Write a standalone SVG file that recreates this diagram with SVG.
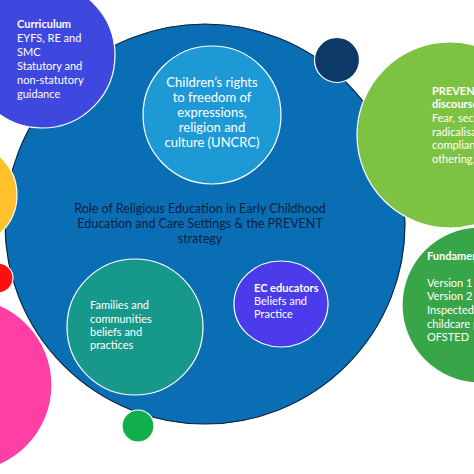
<svg xmlns="http://www.w3.org/2000/svg" width="474" height="474" viewBox="0 0 474 474">
<style>
.t{font-family:Lato,"Open Sans","Liberation Sans",sans-serif;font-size:11px;fill:#ffffff}
.b{font-weight:bold}
.c{text-anchor:middle}
.role{font-family:Lato,"Open Sans","Liberation Sans",sans-serif;font-size:12.5px;fill:#0b2240;text-anchor:middle}
.ws{stroke:#ffffff;stroke-width:1.2}
</style>
<rect width="474" height="474" fill="#ffffff"/>
<g id="main">
<circle cx="205" cy="224" r="200" fill="#0a6eb4" stroke="#0b2240" stroke-width="1.2"/>
<text class="role"><tspan x="200" y="213">Role of Religious Education in Early Childhood</tspan><tspan x="200" y="228">Education and Care Settings &amp; the PREVENT</tspan><tspan x="200" y="243">strategy</tspan></text>
</g>
<g id="rights">
<circle cx="212" cy="115" r="69" fill="#1d9ad6" class="ws"/>
<text class="t c" style="font-size:13px"><tspan x="212" y="87">Children’s rights</tspan><tspan x="212" y="102">to freedom of</tspan><tspan x="212" y="117">expressions,</tspan><tspan x="212" y="132">religion and</tspan><tspan x="212" y="147">culture (UNCRC)</tspan></text>
</g>
<g id="navy">
<circle cx="337" cy="60" r="22.5" fill="#0e3a68" class="ws"/>
</g>
<g id="curriculum">
<circle cx="42" cy="55" r="73" fill="#3f48de" class="ws"/>
<text class="t"><tspan x="17" y="28" class="b">Curriculum</tspan><tspan x="17" y="42">EYFS, RE and</tspan><tspan x="17" y="56">SMC</tspan><tspan x="17" y="70">Statutory and</tspan><tspan x="17" y="84">non-statutory</tspan><tspan x="17" y="98">guidance</tspan></text>
</g>
<g id="yellow">
<circle cx="-35" cy="195" r="52" fill="#ffc12b" class="ws"/>
</g>
<g id="red">
<circle cx="-2" cy="278" r="15" fill="#ff1010" class="ws"/>
</g>
<g id="pink">
<circle cx="-35" cy="385" r="87" fill="#ff3fa4" class="ws"/>
</g>
<g id="smallgreen">
<circle cx="138" cy="426" r="16" fill="#12b04d" class="ws"/>
</g>
<g id="prevent">
<circle cx="450" cy="135" r="93" fill="#7dc242" class="ws"/>
<text class="t"><tspan x="432" y="95" class="b">PREVENT</tspan><tspan x="432" y="108" class="b">discourse</tspan><tspan x="432" y="122">Fear, sec</tspan><tspan x="432" y="136">radicalisa</tspan><tspan x="432" y="149">complian</tspan><tspan x="432" y="163">othering,</tspan></text>
</g>
<g id="fundamental">
<circle cx="480" cy="305" r="78" fill="#38a549" class="ws"/>
<text class="t"><tspan x="427" y="260" class="b">Fundamen</tspan><tspan x="427" y="287">Version 1</tspan><tspan x="427" y="300">Version 2</tspan><tspan x="427" y="314">Inspected</tspan><tspan x="427" y="328">childcare p</tspan><tspan x="427" y="341">OFSTED</tspan></text>
</g>
<g id="families">
<circle cx="135" cy="327" r="68" fill="#16998a" class="ws"/>
<text class="t"><tspan x="90" y="309">Families and</tspan><tspan x="90" y="323">communities</tspan><tspan x="90" y="336">beliefs and</tspan><tspan x="90" y="349">practices</tspan></text>
</g>
<g id="educators">
<ellipse cx="281" cy="304" rx="47" ry="43" fill="#4b3bea" class="ws"/>
<text class="t"><tspan x="254" y="292" class="b">EC educators</tspan><tspan x="254" y="305">Beliefs and</tspan><tspan x="254" y="318">Practice</tspan></text>
</g>
<g id="connectors"></g>
</svg>
